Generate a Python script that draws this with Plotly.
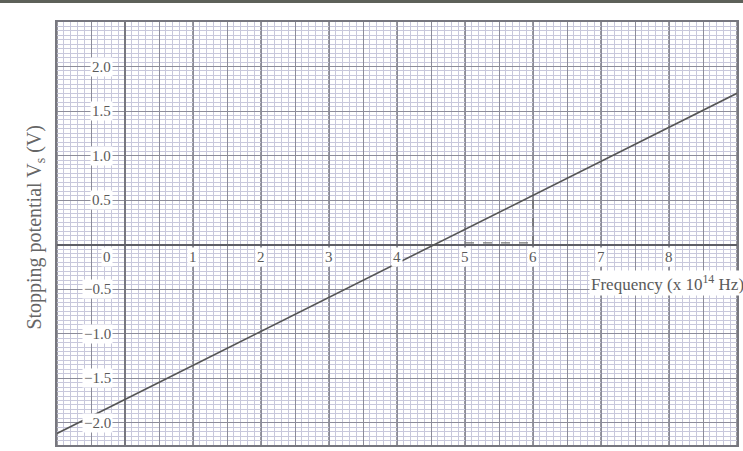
import plotly.graph_objects as go

# data
freq = [-1.0, 9.0]          # x 10^14 Hz
v_stop = [-2.12, 1.70]      # V

# construction lines for the slope (rise / run)
rise_x = [6.0, 6.0]
rise_y = [0.0, 0.57]
run_x = [5.0, 6.0]
run_y = [0.02, 0.02]

x_ticks = [1, 2, 3, 4, 5, 6, 7, 8]
y_ticks = [2.0, 1.5, 1.0, 0.5, -0.5, -1.0, -1.5, -2.0]
y_tick_text = ["2.0", "1.5", "1.0", "0.5", "\u22120.5", "\u22121.0", "\u22121.5", "\u22122.0"]

serif = "Liberation Serif"
ink = "#5a5a5a"

fig = go.Figure()

fig.add_trace(go.Scatter(x=freq, y=v_stop, mode="lines",
                         line=dict(color="#555555", width=1.6),
                         hoverinfo="skip", showlegend=False))
fig.add_trace(go.Scatter(x=rise_x, y=rise_y, mode="lines",
                         line=dict(color="#666666", width=1.2, dash="dash"),
                         hoverinfo="skip", showlegend=False))
fig.add_trace(go.Scatter(x=run_x, y=run_y, mode="lines",
                         line=dict(color="#777777", width=1.2, dash="dash"),
                         hoverinfo="skip", showlegend=False))

# darker lines at whole units of frequency
for i in range(-1, 10):
    fig.add_shape(type="line", x0=i, x1=i, y0=-2.25, y1=2.5,
                  line=dict(color="#77777f", width=1.5), layer="below")

# tick labels sit on the paper with a white patch behind them
for x in x_ticks:
    fig.add_annotation(x=x, y=-0.14, text=str(x), showarrow=False,
                       bgcolor="white", borderpad=1,
                       font=dict(family=serif, size=15, color=ink))
fig.add_annotation(x=-0.18, y=-0.14, text="0", showarrow=False, xanchor="right",
                   bgcolor="white", borderpad=1,
                   font=dict(family=serif, size=15, color=ink))
for y, t in zip(y_ticks, y_tick_text):
    fig.add_annotation(x=-0.17, y=y, text=t, showarrow=False, xanchor="right",
                       bgcolor="white", borderpad=1,
                       font=dict(family=serif, size=15, color=ink))

fig.add_annotation(x=6.82, y=-0.43, text="Frequency (x 10<sup>14</sup> Hz)",
                   showarrow=False, xanchor="left", bgcolor="white", borderpad=1,
                   font=dict(family=serif, size=17, color=ink))
fig.add_annotation(xref="paper", yref="paper", x=-0.053, y=0.515,
                   text="Stopping potential V<sub>s</sub> (V)", textangle=-90,
                   showarrow=False,
                   font=dict(family=serif, size=20, color="#666666"))

# dark strip along the top of the scan
fig.add_shape(type="rect", xref="paper", yref="paper", x0=-0.1, x1=1.01,
              y0=1.045, y1=1.06, fillcolor="#5d6159", line=dict(width=0))

fig.update_xaxes(range=[-1, 9], dtick=0.5, showticklabels=False,
                 showgrid=True, gridcolor="#8c8c9a", gridwidth=1.2,
                 minor=dict(dtick=0.1, showgrid=True, gridcolor="#c8c8dc", gridwidth=1),
                 zeroline=True, zerolinecolor="#77777f", zerolinewidth=1.5,
                 showline=True, mirror=True, linecolor="#77777f", linewidth=1.5)
fig.update_yaxes(range=[-2.25, 2.5], dtick=0.5, showticklabels=False,
                 showgrid=True, gridcolor="#8c8c9a", gridwidth=1.2,
                 minor=dict(dtick=0.05, showgrid=True, gridcolor="#c8c8dc", gridwidth=1),
                 zeroline=True, zerolinecolor="#5e5e66", zerolinewidth=1.8,
                 showline=True, mirror=True, linecolor="#77777f", linewidth=1.5)

fig.update_layout(width=743, height=451,
                  margin=dict(l=57, r=4, t=22, b=6),
                  paper_bgcolor="white", plot_bgcolor="white")

fig.write_html("out.html", config={"displayModeBar": False},
               post_script="document.body.style.margin='0';")
